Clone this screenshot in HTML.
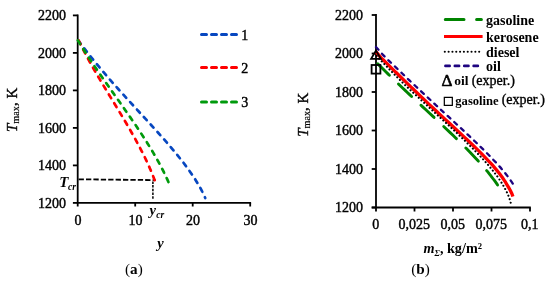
<!DOCTYPE html>
<html><head><meta charset="utf-8"><title>Figure</title>
<style>html,body{margin:0;padding:0;background:#fff;width:550px;height:282px;overflow:hidden}svg{display:block}</style>
</head><body>
<svg width="550" height="282" viewBox="0 0 550 282">
<rect width="550" height="282" fill="#fff"/>
<g stroke="#000" stroke-width="1.8" fill="none">
<path d="M77.7 14.5 V206.5"/>
<path d="M76.8 202.9 H251.10000000000002"/>
<path d="M72.9 15.4 H77.7"/>
<path d="M72.9 52.9 H77.7"/>
<path d="M72.9 90.4 H77.7"/>
<path d="M72.9 127.9 H77.7"/>
<path d="M72.9 165.4 H77.7"/>
<path d="M72.9 202.9 H77.7"/>
<path d="M135.2 202.9 V206.5"/>
<path d="M192.7 202.9 V206.5"/>
<path d="M250.2 202.9 V206.5"/>
</g>
<g font-family='"Liberation Serif", serif' font-size="14" fill="#000" stroke="#000" stroke-width="0.4">
<text x="66" y="20.0" text-anchor="end">2200</text>
<text x="66" y="57.5" text-anchor="end">2000</text>
<text x="66" y="95.0" text-anchor="end">1800</text>
<text x="66" y="132.5" text-anchor="end">1600</text>
<text x="66" y="170.0" text-anchor="end">1400</text>
<text x="66" y="207.5" text-anchor="end">1200</text>
<text x="77.9" y="224.9" text-anchor="middle">0</text>
<text x="135.4" y="224.9" text-anchor="middle">10</text>
<text x="192.9" y="224.9" text-anchor="middle">20</text>
<text x="250.4" y="224.9" text-anchor="middle">30</text>
</g>
<path d="M78.6 179.3 L155.6 180.1" stroke="#000" stroke-width="1.8" fill="none" stroke-dasharray="5.3 2.1"/>
<path d="M152.9 181.4 V199.3" stroke="#000" stroke-width="1.5" fill="none" stroke-dasharray="2.5 1.2"/>
<path d="M78.17 40.30 C78.85 41.21 80.85 43.93 82.22 45.74 C83.59 47.55 84.98 49.36 86.39 51.18 C87.80 52.99 89.23 54.80 90.68 56.61 C92.13 58.43 93.59 60.24 95.08 62.05 C96.56 63.86 98.06 65.68 99.58 67.49 C101.10 69.30 102.63 71.11 104.18 72.93 C105.73 74.74 107.30 76.55 108.87 78.37 C110.45 80.18 112.04 81.99 113.64 83.80 C115.24 85.62 116.86 87.43 118.48 89.24 C120.11 91.05 121.74 92.87 123.38 94.68 C125.02 96.49 126.67 98.30 128.33 100.12 C129.98 101.93 131.64 103.74 133.30 105.56 C134.97 107.37 136.64 109.18 138.30 110.99 C139.97 112.81 141.64 114.62 143.30 116.43 C144.96 118.24 146.63 120.06 148.29 121.87 C149.94 123.68 151.60 125.49 153.24 127.31 C154.89 129.12 156.53 130.93 158.15 132.74 C159.78 134.56 161.39 136.37 162.99 138.18 C164.59 140.00 166.18 141.81 167.74 143.62 C169.31 145.43 170.86 147.25 172.38 149.06 C173.91 150.87 175.42 152.68 176.89 154.50 C178.37 156.31 179.83 158.12 181.25 159.93 C182.67 161.75 184.07 163.56 185.43 165.37 C186.79 167.19 188.11 169.00 189.40 170.81 C190.69 172.62 191.94 174.44 193.14 176.25 C194.35 178.06 195.51 179.87 196.63 181.69 C197.74 183.50 198.81 185.31 199.83 187.12 C200.84 188.94 201.81 190.75 202.71 192.56 C203.61 194.37 204.82 197.09 205.25 198.00" stroke="#0747c0" stroke-width="2.7" fill="none" stroke-linecap="round" stroke-dasharray="4.3 5.8"/>
<path d="M78.61 40.30 C79.00 41.10 80.16 43.52 80.95 45.12 C81.75 46.73 82.56 48.34 83.38 49.95 C84.21 51.56 85.05 53.16 85.90 54.77 C86.76 56.38 87.63 57.99 88.50 59.60 C89.38 61.20 90.27 62.81 91.17 64.42 C92.08 66.03 92.99 67.64 93.91 69.24 C94.83 70.85 95.76 72.46 96.69 74.07 C97.63 75.68 98.58 77.29 99.53 78.89 C100.48 80.50 101.43 82.11 102.39 83.72 C103.36 85.33 104.32 86.93 105.29 88.54 C106.26 90.15 107.24 91.76 108.21 93.37 C109.18 94.97 110.16 96.58 111.14 98.19 C112.12 99.80 113.10 101.41 114.07 103.01 C115.05 104.62 116.03 106.23 117.00 107.84 C117.98 109.45 118.95 111.05 119.92 112.66 C120.89 114.27 121.85 115.88 122.81 117.49 C123.77 119.09 124.73 120.70 125.68 122.31 C126.63 123.92 127.57 125.53 128.50 127.13 C129.44 128.74 130.37 130.35 131.28 131.96 C132.20 133.57 133.11 135.17 134.01 136.78 C134.90 138.39 135.79 140.00 136.67 141.61 C137.54 143.21 138.41 144.82 139.26 146.43 C140.11 148.04 140.95 149.65 141.77 151.26 C142.59 152.86 143.40 154.47 144.19 156.08 C144.98 157.69 145.75 159.30 146.51 160.90 C147.27 162.51 148.01 164.12 148.73 165.73 C149.45 167.34 150.15 168.94 150.84 170.55 C151.52 172.16 152.18 173.77 152.82 175.38 C153.46 176.98 154.36 179.40 154.67 180.20" stroke="#ff0000" stroke-width="2.7" fill="none" stroke-linecap="round" stroke-dasharray="4.4 5.94"/>
<path d="M77.83 40.30 C78.33 41.11 79.81 43.56 80.81 45.19 C81.82 46.81 82.84 48.44 83.88 50.07 C84.91 51.70 85.96 53.33 87.02 54.96 C88.08 56.59 89.15 58.22 90.23 59.84 C91.31 61.47 92.40 63.10 93.50 64.73 C94.60 66.36 95.71 67.99 96.83 69.62 C97.94 71.25 99.07 72.87 100.19 74.50 C101.32 76.13 102.46 77.76 103.60 79.39 C104.73 81.02 105.88 82.65 107.02 84.28 C108.17 85.90 109.32 87.53 110.47 89.16 C111.62 90.79 112.78 92.42 113.93 94.05 C115.08 95.68 116.24 97.31 117.39 98.93 C118.54 100.56 119.69 102.19 120.84 103.82 C121.99 105.45 123.14 107.08 124.28 108.71 C125.42 110.34 126.56 111.96 127.70 113.59 C128.83 115.22 129.96 116.85 131.08 118.48 C132.20 120.11 133.32 121.74 134.43 123.37 C135.53 124.99 136.63 126.62 137.72 128.25 C138.81 129.88 139.89 131.51 140.96 133.14 C142.03 134.77 143.09 136.40 144.14 138.02 C145.18 139.65 146.22 141.28 147.24 142.91 C148.26 144.54 149.27 146.17 150.26 147.80 C151.25 149.43 152.23 151.05 153.19 152.68 C154.16 154.31 155.10 155.94 156.03 157.57 C156.96 159.20 157.87 160.83 158.76 162.46 C159.65 164.08 160.52 165.71 161.37 167.34 C162.22 168.97 163.05 170.60 163.86 172.23 C164.67 173.86 165.46 175.49 166.22 177.11 C166.98 178.74 168.07 181.19 168.44 182.00" stroke="#009a0c" stroke-width="2.7" fill="none" stroke-linecap="round" stroke-dasharray="4.3 5.96"/>
<path d="M201.5 34.5 H237" stroke="#0747c0" stroke-width="3" stroke-linecap="round" stroke-dasharray="5 5"/>
<text x="241.2" y="39.7" font-family='"Liberation Serif", serif' font-size="14" stroke="#000" stroke-width="0.4">1</text>
<path d="M201.5 67.6 H237" stroke="#ff0000" stroke-width="3" stroke-linecap="round" stroke-dasharray="5 5"/>
<text x="241.2" y="72.8" font-family='"Liberation Serif", serif' font-size="14" stroke="#000" stroke-width="0.4">2</text>
<path d="M201.5 102.1 H237" stroke="#009a0c" stroke-width="3" stroke-linecap="round" stroke-dasharray="5 5"/>
<text x="241.2" y="107.3" font-family='"Liberation Serif", serif' font-size="14" stroke="#000" stroke-width="0.4">3</text>
<text x="59.2" y="186.8" font-family='"Liberation Serif", serif' font-size="15" font-style="italic" font-weight="bold">T<tspan x="68" y="189.6" font-size="9.6">cr</tspan></text>
<text x="149.4" y="214.8" font-family='"Liberation Serif", serif' font-size="14.5" font-style="italic" font-weight="bold">y<tspan x="156.2" y="218" font-size="9.6">cr</tspan></text>
<text x="157.3" y="247.7" font-family='"Liberation Serif", serif' font-size="14.5" font-style="italic" font-weight="bold">y</text>
<text x="125" y="274" font-family='"Liberation Serif", serif' font-size="15.2">(<tspan font-weight="bold">a</tspan>)</text>
<text transform="translate(16.6,132) rotate(-90)" font-family='"Liberation Serif", serif' font-size="15" stroke="#000" stroke-width="0.4"><tspan font-style="italic">T</tspan><tspan font-size="10.2" dy="2.4" stroke-width="0.15">max</tspan><tspan dy="-2.4">, K</tspan></text>
<g stroke="#000" stroke-width="1.8" fill="none">
<path d="M376.0 14.1 V211.5"/>
<path d="M371.7 207.5 H530.8"/>
<path d="M371.7 15.0 H376.0"/>
<path d="M371.7 53.5 H376.0"/>
<path d="M371.7 92.0 H376.0"/>
<path d="M371.7 130.5 H376.0"/>
<path d="M371.7 169.0 H376.0"/>
<path d="M371.7 207.5 H376.0"/>
<path d="M414.5 207.5 V211.5"/>
<path d="M453.0 207.5 V211.5"/>
<path d="M491.5 207.5 V211.5"/>
<path d="M530.0 207.5 V211.5"/>
</g>
<g font-family='"Liberation Serif", serif' font-size="14" fill="#000" stroke="#000" stroke-width="0.4">
<text x="363" y="19.8" text-anchor="end">2200</text>
<text x="363" y="58.3" text-anchor="end">2000</text>
<text x="363" y="96.8" text-anchor="end">1800</text>
<text x="363" y="135.3" text-anchor="end">1600</text>
<text x="363" y="173.8" text-anchor="end">1400</text>
<text x="363" y="212.3" text-anchor="end">1200</text>
<text x="375.7" y="229" text-anchor="middle">0</text>
<text x="414.2" y="229" text-anchor="middle">0,025</text>
<text x="452.7" y="229" text-anchor="middle">0,05</text>
<text x="491.2" y="229" text-anchor="middle">0,075</text>
<text x="529.7" y="229" text-anchor="middle">0,1</text>
</g>
<path d="M376.14 62.20 C376.67 62.73 378.26 64.33 379.33 65.39 C380.40 66.45 381.47 67.52 382.55 68.58 C383.62 69.64 384.70 70.71 385.79 71.77 C386.87 72.83 387.96 73.90 389.05 74.96 C390.14 76.02 391.24 77.09 392.34 78.15 C393.44 79.21 394.54 80.28 395.65 81.34 C396.75 82.40 397.86 83.46 398.98 84.53 C400.09 85.59 401.21 86.65 402.33 87.72 C403.45 88.78 404.57 89.84 405.69 90.91 C406.82 91.97 407.94 93.03 409.07 94.10 C410.20 95.16 411.34 96.22 412.47 97.29 C413.60 98.35 414.74 99.41 415.88 100.48 C417.01 101.54 418.15 102.60 419.29 103.67 C420.43 104.73 421.57 105.79 422.71 106.86 C423.85 107.92 424.99 108.98 426.14 110.05 C427.28 111.11 428.42 112.17 429.56 113.24 C430.70 114.30 431.84 115.36 432.98 116.43 C434.12 117.49 435.26 118.55 436.39 119.62 C437.53 120.68 438.66 121.74 439.80 122.81 C440.93 123.87 442.06 124.93 443.19 125.99 C444.31 127.06 445.44 128.12 446.56 129.18 C447.68 130.25 448.80 131.31 449.91 132.37 C451.02 133.44 452.13 134.50 453.23 135.56 C454.34 136.63 455.43 137.69 456.53 138.75 C457.62 139.82 458.71 140.88 459.79 141.94 C460.87 143.01 461.94 144.07 463.00 145.13 C464.07 146.20 465.13 147.26 466.18 148.32 C467.23 149.39 468.27 150.45 469.30 151.51 C470.33 152.58 471.36 153.64 472.37 154.70 C473.38 155.77 474.39 156.83 475.38 157.89 C476.37 158.96 477.35 160.02 478.32 161.08 C479.29 162.15 480.24 163.21 481.19 164.27 C482.13 165.34 483.06 166.40 483.98 167.46 C484.89 168.52 485.80 169.59 486.68 170.65 C487.57 171.71 488.44 172.78 489.30 173.84 C490.15 174.90 490.99 175.97 491.81 177.03 C492.63 178.09 493.44 179.16 494.22 180.22 C495.01 181.28 495.78 182.35 496.53 183.41 C497.27 184.47 498.34 186.07 498.71 186.60" stroke="#008400" stroke-width="2.9" fill="none" stroke-linecap="round" stroke-dasharray="16.31 12.55 18.09 12.76 17.95 13.27 17.56 13.19 18.26 12.51 18.14 227.26" stroke-dashoffset="-2.36"/>
<path d="M375.81 51.60 C376.24 52.09 377.53 53.57 378.38 54.56 C379.23 55.54 380.00 56.53 380.92 57.51 C381.83 58.50 382.87 59.49 383.86 60.47 C384.85 61.46 385.86 62.44 386.86 63.43 C387.86 64.41 388.85 65.40 389.84 66.39 C390.83 67.37 391.81 68.36 392.81 69.34 C393.80 70.33 394.82 71.31 395.83 72.30 C396.84 73.29 397.86 74.27 398.87 75.26 C399.88 76.24 400.90 77.23 401.91 78.21 C402.92 79.20 403.94 80.19 404.95 81.17 C405.97 82.16 406.98 83.14 408.00 84.13 C409.02 85.11 410.03 86.10 411.05 87.09 C412.07 88.07 413.10 89.06 414.12 90.04 C415.14 91.03 416.17 92.01 417.20 93.00 C418.23 93.99 419.26 94.97 420.29 95.96 C421.32 96.94 422.36 97.93 423.40 98.91 C424.44 99.90 425.47 100.89 426.52 101.87 C427.56 102.86 428.60 103.84 429.65 104.83 C430.69 105.81 431.74 106.80 432.79 107.79 C433.84 108.77 434.89 109.76 435.95 110.74 C437.00 111.73 438.06 112.71 439.12 113.70 C440.18 114.69 441.24 115.67 442.30 116.66 C443.36 117.64 444.42 118.63 445.49 119.61 C446.55 120.60 447.61 121.59 448.68 122.57 C449.74 123.56 450.81 124.54 451.87 125.53 C452.94 126.51 454.00 127.50 455.06 128.49 C456.13 129.47 457.19 130.46 458.25 131.44 C459.31 132.43 460.37 133.41 461.42 134.40 C462.48 135.39 463.53 136.37 464.58 137.36 C465.63 138.34 466.67 139.33 467.71 140.31 C468.76 141.30 469.81 142.29 470.84 143.27 C471.88 144.26 472.91 145.24 473.94 146.23 C474.96 147.21 475.98 148.20 476.99 149.19 C478.00 150.17 479.00 151.16 479.99 152.14 C480.98 153.13 481.97 154.11 482.94 155.10 C483.91 156.09 484.87 157.07 485.82 158.06 C486.76 159.04 487.70 160.03 488.62 161.01 C489.54 162.00 490.45 162.99 491.34 163.97 C492.23 164.96 493.10 165.94 493.95 166.93 C494.80 167.91 495.63 168.90 496.44 169.89 C497.25 170.87 498.05 171.86 498.82 172.84 C499.59 173.83 500.34 174.81 501.07 175.80 C501.80 176.79 502.51 177.77 503.19 178.76 C503.87 179.74 504.52 180.73 505.15 181.71 C505.78 182.70 506.35 183.69 506.95 184.67 C507.55 185.66 508.17 186.64 508.74 187.63 C509.30 188.61 509.85 189.60 510.35 190.59 C510.86 191.57 511.33 192.56 511.77 193.54 C512.20 194.53 512.76 196.01 512.96 196.50" stroke="#ff0000" stroke-width="3.3" fill="none"/>
<path d="M376.64 56.00 C377.12 56.51 378.53 58.03 379.49 59.04 C380.45 60.05 381.43 61.07 382.41 62.08 C383.40 63.10 384.42 64.11 385.40 65.12 C386.38 66.14 387.33 67.15 388.30 68.16 C389.27 69.18 390.22 70.19 391.20 71.20 C392.18 72.22 393.17 73.23 394.16 74.24 C395.16 75.26 396.17 76.27 397.18 77.29 C398.20 78.30 399.22 79.31 400.25 80.33 C401.28 81.34 402.33 82.35 403.37 83.37 C404.42 84.38 405.47 85.39 406.52 86.41 C407.58 87.42 408.65 88.44 409.72 89.45 C410.79 90.46 411.86 91.48 412.95 92.49 C414.03 93.50 415.12 94.52 416.21 95.53 C417.31 96.54 418.41 97.56 419.51 98.57 C420.61 99.59 421.72 100.60 422.83 101.61 C423.95 102.63 425.08 103.64 426.18 104.65 C427.29 105.67 428.37 106.68 429.47 107.69 C430.57 108.71 431.66 109.72 432.76 110.73 C433.86 111.75 434.96 112.76 436.06 113.78 C437.16 114.79 438.26 115.80 439.36 116.82 C440.47 117.83 441.57 118.84 442.67 119.86 C443.77 120.87 444.87 121.88 445.97 122.90 C447.06 123.91 448.16 124.93 449.25 125.94 C450.34 126.95 451.42 127.97 452.50 128.98 C453.59 129.99 454.66 131.01 455.74 132.02 C456.81 133.03 457.88 134.05 458.94 135.06 C460.01 136.07 461.07 137.09 462.12 138.10 C463.17 139.12 464.21 140.13 465.25 141.14 C466.28 142.16 467.31 143.17 468.33 144.18 C469.36 145.20 470.39 146.21 471.41 147.22 C472.43 148.24 473.45 149.25 474.45 150.27 C475.45 151.28 476.44 152.29 477.42 153.31 C478.39 154.32 479.36 155.33 480.31 156.35 C481.27 157.36 482.21 158.37 483.13 159.39 C484.06 160.40 484.97 161.41 485.86 162.43 C486.76 163.44 487.64 164.46 488.51 165.47 C489.38 166.48 490.24 167.50 491.08 168.51 C491.92 169.52 492.75 170.54 493.55 171.55 C494.36 172.56 495.14 173.58 495.91 174.59 C496.67 175.61 497.41 176.62 498.13 177.63 C498.85 178.65 499.55 179.66 500.23 180.67 C500.90 181.69 501.56 182.70 502.18 183.71 C502.81 184.73 503.41 185.74 503.99 186.76 C504.56 187.77 505.11 188.78 505.64 189.80 C506.16 190.81 506.66 191.82 507.13 192.84 C507.59 193.85 508.03 194.86 508.44 195.88 C508.85 196.89 509.23 197.90 509.57 198.92 C509.91 199.93 510.23 200.95 510.51 201.96 C510.79 202.97 511.12 204.49 511.24 205.00" stroke="#000" stroke-width="2.1" fill="none" stroke-linecap="round" stroke-dasharray="0.01 3.7"/>
<path d="M375.98 47.00 C376.40 47.46 377.68 48.86 378.52 49.79 C379.36 50.72 380.18 51.65 381.01 52.58 C381.84 53.50 382.63 54.43 383.50 55.36 C384.37 56.29 385.32 57.22 386.24 58.15 C387.16 59.08 388.08 60.01 389.04 60.94 C390.00 61.87 391.02 62.80 392.00 63.73 C392.98 64.66 393.96 65.59 394.94 66.51 C395.91 67.44 396.89 68.37 397.86 69.30 C398.83 70.23 399.79 71.16 400.76 72.09 C401.73 73.02 402.69 73.95 403.66 74.88 C404.62 75.81 405.58 76.74 406.55 77.67 C407.52 78.59 408.47 79.52 409.45 80.45 C410.43 81.38 411.44 82.31 412.43 83.24 C413.42 84.17 414.41 85.10 415.41 86.03 C416.40 86.96 417.39 87.89 418.39 88.82 C419.39 89.75 420.38 90.67 421.38 91.60 C422.38 92.53 423.38 93.46 424.38 94.39 C425.39 95.32 426.39 96.25 427.40 97.18 C428.40 98.11 429.42 99.04 430.42 99.97 C431.42 100.90 432.40 101.83 433.40 102.76 C434.39 103.68 435.39 104.61 436.38 105.54 C437.38 106.47 438.38 107.40 439.38 108.33 C440.38 109.26 441.39 110.19 442.39 111.12 C443.40 112.05 444.41 112.98 445.41 113.91 C446.42 114.84 447.44 115.76 448.45 116.69 C449.45 117.62 450.46 118.55 451.47 119.48 C452.47 120.41 453.48 121.34 454.48 122.27 C455.48 123.20 456.49 124.13 457.50 125.06 C458.50 125.99 459.51 126.92 460.51 127.84 C461.52 128.77 462.52 129.70 463.52 130.63 C464.51 131.56 465.50 132.49 466.48 133.42 C467.47 134.35 468.46 135.28 469.44 136.21 C470.42 137.14 471.41 138.07 472.38 139.00 C473.36 139.93 474.34 140.85 475.31 141.78 C476.28 142.71 477.25 143.64 478.21 144.57 C479.17 145.50 480.13 146.43 481.08 147.36 C482.03 148.29 482.98 149.22 483.92 150.15 C484.86 151.08 485.79 152.01 486.72 152.93 C487.64 153.86 488.56 154.79 489.47 155.72 C490.38 156.65 491.28 157.58 492.17 158.51 C493.05 159.44 493.94 160.37 494.80 161.30 C495.67 162.23 496.53 163.16 497.37 164.09 C498.22 165.01 499.05 165.94 499.87 166.87 C500.69 167.80 501.49 168.73 502.28 169.66 C503.07 170.59 503.84 171.52 504.60 172.45 C505.35 173.38 506.09 174.31 506.82 175.24 C507.54 176.17 508.24 177.10 508.92 178.02 C509.61 178.95 510.27 179.88 510.91 180.81 C511.55 181.74 512.46 183.14 512.77 183.60" stroke="#1e0480" stroke-width="2.3" fill="none" stroke-linecap="round" stroke-dasharray="3.7 5.34"/>
<path d="M376 50.6 L380.9 58.8 H371.1 Z" stroke="#000" stroke-width="1.8" fill="none" stroke-linejoin="miter"/>
<rect x="371.6" y="65" width="8.8" height="8.6" stroke="#000" stroke-width="1.8" fill="none"/>
<path d="M445.3 19.6 H464 M476.6 19.6 H481.4" stroke="#008400" stroke-width="3" stroke-linecap="round"/>
<path d="M444 36.4 H482.6" stroke="#ff0000" stroke-width="3"/>
<path d="M444.8 51.8 H479.6" stroke="#000" stroke-width="2.1" stroke-linecap="round" stroke-dasharray="0.01 3.81"/>
<path d="M445.45 65.9 H478.2" stroke="#1e0480" stroke-width="2.7" stroke-linecap="round" stroke-dasharray="4.2 5.2"/>
<g font-family='"Liberation Serif", serif' font-size="14" font-weight="bold">
<text x="486" y="24.6">gasoline</text>
<text x="486" y="42">kerosene</text>
<text x="486" y="57">diesel</text>
<text x="486" y="71.3">oil</text>
</g>
<text x="441.6" y="85.6" font-family='"Liberation Serif", serif' font-size="17" stroke="#000" stroke-width="0.6">&#916;</text>
<text x="454.2" y="85.3" font-family='"Liberation Serif", serif' font-size="13.5" font-weight="bold">oil</text>
<text x="471.7" y="85.4" font-family='"Liberation Serif", serif' font-size="14" stroke="#000" stroke-width="0.35">(exper.)</text>
<text x="442.9" y="104.1" font-family="DejaVu Sans, sans-serif" font-size="11.0" stroke="#000" stroke-width="0.6">&#9633;</text>
<text x="455.3" y="104.7" font-family='"Liberation Serif", serif' font-size="12.6" font-weight="bold">gasoline</text><text x="501.7" y="104.4" font-family='"Liberation Serif", serif' font-size="14" stroke="#000" stroke-width="0.35">(exper.)</text>
<text transform="translate(307.9,136.8) rotate(-90)" font-family='"Liberation Serif", serif' font-size="15" stroke="#000" stroke-width="0.4"><tspan font-style="italic">T</tspan><tspan font-size="10.2" dy="2.4" stroke-width="0.15">max</tspan><tspan dy="-2.4">, K</tspan></text>
<text x="423.5" y="252.7" font-family='"Liberation Serif", serif' font-size="14.2" font-weight="bold"><tspan font-style="italic">m</tspan><tspan font-style="italic" font-size="8.6" dy="3.2">&#931;</tspan><tspan dy="-3.2">, kg/m²</tspan></text>
<text x="411.3" y="274" font-family='"Liberation Serif", serif' font-size="15.2">(<tspan font-weight="bold">b</tspan>)</text>
</svg>
</body></html>
